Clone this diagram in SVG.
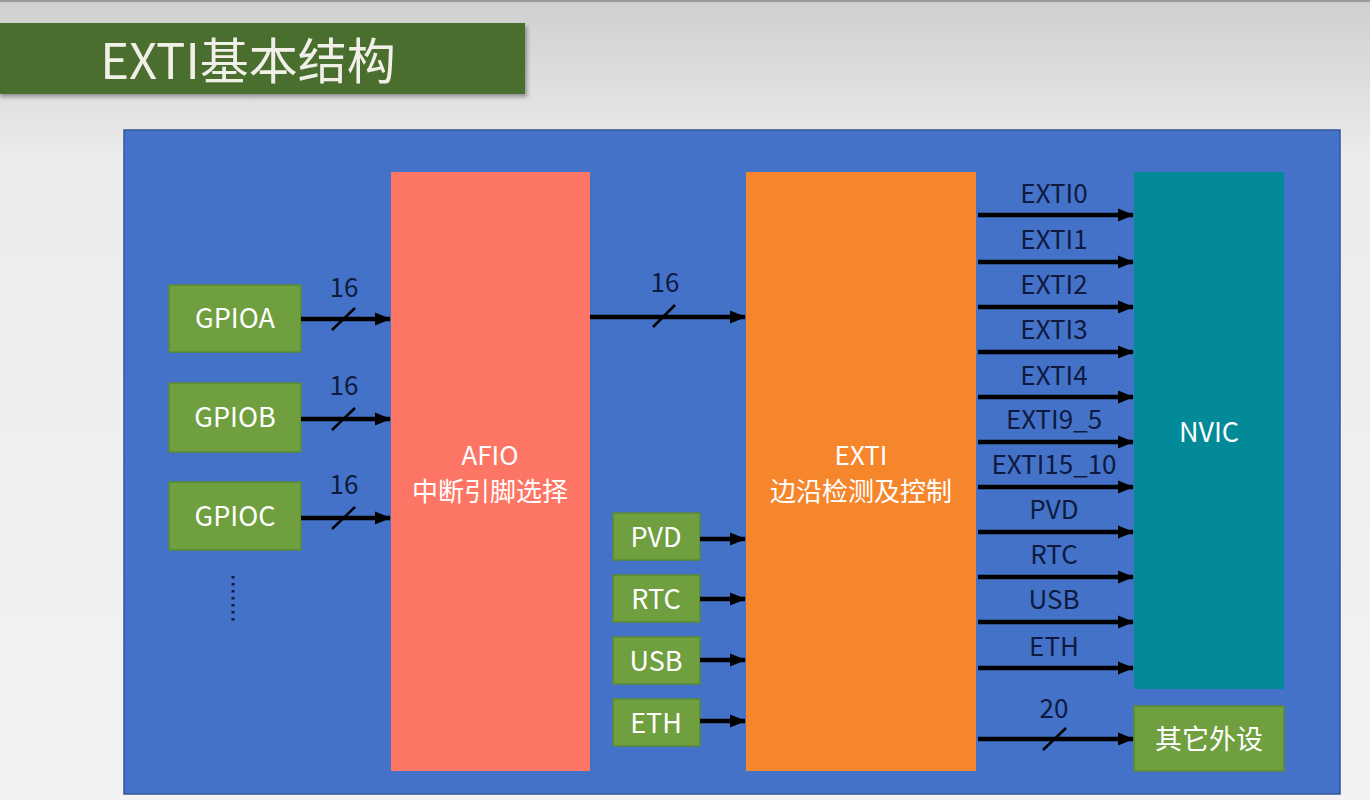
<svg xmlns="http://www.w3.org/2000/svg" width="1370" height="800" viewBox="0 0 1370 800">
<defs>
<linearGradient id="bg" x1="0" y1="0" x2="0" y2="1">
<stop offset="0" stop-color="#cfcfcf"/>
<stop offset="0.2" stop-color="#ececec"/>
<stop offset="1" stop-color="#f3f3f3"/>
</linearGradient>
<marker id="ah" markerWidth="16" markerHeight="16" viewBox="0 0 16 16" refX="15" refY="8" orient="auto" markerUnits="userSpaceOnUse">
<path d="M0,1.5 L16,8 L0,14.5 Z" fill="#000"/>
</marker>
<filter id="sh" x="-5%" y="-20%" width="110%" height="150%">
<feDropShadow dx="2" dy="3" stdDeviation="2" flood-color="#000" flood-opacity="0.35"/>
</filter>
</defs>
<style>
.wt{font-family:"Noto Sans CJK SC","Noto Sans",sans-serif;fill:#fff;font-size:27px;text-anchor:middle}
.bt{font-size:26px}
.lb{font-family:"Noto Sans CJK SC","Noto Sans",sans-serif;fill:#0e1a3e;font-size:26px;text-anchor:middle}
.gr{fill:#6f9f3f;stroke:#5a8a35;stroke-width:1.5}
.ar{stroke:#000;stroke-width:4.5;fill:none;marker-end:url(#ah)}
.sl{stroke:#000;stroke-width:2.5}
</style>
<rect x="0" y="0" width="1370" height="800" fill="url(#bg)"/>
<rect x="0" y="0" width="1370" height="2" fill="#9a9a9a"/>
<g id="title">
<rect x="-2" y="23" width="527" height="71" fill="#4a6e2e" filter="url(#sh)"/>
<text x="248" y="79" font-family="Noto Sans CJK SC, Noto Sans, sans-serif" font-size="49" fill="#f0f0e8" text-anchor="middle">EXTI基本结构</text>
</g>
<g id="panel">
<rect x="124" y="130" width="1216" height="664" fill="#4472c8" stroke="#34559a" stroke-width="1.5"/>
</g>
<g id="gpioa"><rect class="gr" x="169" y="285" width="132" height="67"/><text class="wt" x="235" y="328">GPIOA</text></g>
<g id="gpiob"><rect class="gr" x="169" y="383" width="132" height="69"/><text class="wt" x="235" y="427">GPIOB</text></g>
<g id="gpioc"><rect class="gr" x="169" y="482" width="132" height="68"/><text class="wt" x="235" y="526">GPIOC</text></g>
<g id="dots"><line x1="233" y1="576" x2="233" y2="624" stroke="#0e1a3e" stroke-width="3" stroke-dasharray="2.5,4.5"/></g>
<g id="afio"><rect x="391" y="172" width="199" height="599" fill="#fd7665"/><text class="wt bt" x="490" y="465">AFIO</text><text class="wt bt" x="490" y="501">中断引脚选择</text></g>
<g id="exti"><rect x="746" y="172" width="230" height="599" fill="#f5862c"/><text class="wt bt" x="861" y="465">EXTI</text><text class="wt bt" x="861" y="501">边沿检测及控制</text></g>
<g id="nvic"><rect x="1134" y="172" width="150" height="517" fill="#038a98"/><text class="wt" x="1209" y="442">NVIC</text></g>
<g id="other"><rect class="gr" x="1134" y="706" width="150" height="65"/><text class="wt" x="1209" y="749">其它外设</text></g>
<g id="pvd"><rect class="gr" x="613" y="513" width="87" height="47"/><text class="wt" x="656" y="547">PVD</text></g>
<g id="rtc"><rect class="gr" x="613" y="575" width="87" height="47"/><text class="wt" x="656" y="609">RTC</text></g>
<g id="usb"><rect class="gr" x="613" y="637" width="87" height="47"/><text class="wt" x="656" y="671">USB</text></g>
<g id="eth"><rect class="gr" x="613" y="699" width="87" height="47"/><text class="wt" x="656" y="733">ETH</text></g>
<g id="connectors">
<line class="ar" x1="301" y1="319" x2="390" y2="319"/><line class="sl" x1="332" y1="330" x2="355" y2="308"/><text class="lb" x="344" y="297">16</text>
<line class="ar" x1="301" y1="419" x2="390" y2="419"/><line class="sl" x1="332" y1="430" x2="355" y2="408"/><text class="lb" x="344" y="395">16</text>
<line class="ar" x1="301" y1="518" x2="390" y2="518"/><line class="sl" x1="332" y1="529" x2="355" y2="507"/><text class="lb" x="344" y="494">16</text>
<line class="ar" x1="590" y1="317" x2="745" y2="317"/><line class="sl" x1="653" y1="327" x2="675" y2="305"/><text class="lb" x="665" y="292">16</text>
<line class="ar" x1="700" y1="539" x2="745" y2="539"/>
<line class="ar" x1="700" y1="599" x2="745" y2="599"/>
<line class="ar" x1="700" y1="660" x2="745" y2="660"/>
<line class="ar" x1="700" y1="721" x2="745" y2="721"/>
<line class="ar" x1="978" y1="215" x2="1133" y2="215"/><text class="lb" x="1054" y="203">EXTI0</text>
<line class="ar" x1="978" y1="262" x2="1133" y2="262"/><text class="lb" x="1054" y="249">EXTI1</text>
<line class="ar" x1="978" y1="307" x2="1133" y2="307"/><text class="lb" x="1054" y="294">EXTI2</text>
<line class="ar" x1="978" y1="352" x2="1133" y2="352"/><text class="lb" x="1054" y="339">EXTI3</text>
<line class="ar" x1="978" y1="397" x2="1133" y2="397"/><text class="lb" x="1054" y="385">EXTI4</text>
<line class="ar" x1="978" y1="442" x2="1133" y2="442"/><text class="lb" x="1054" y="429">EXTI9_5</text>
<line class="ar" x1="978" y1="487" x2="1133" y2="487"/><text class="lb" x="1054" y="474">EXTI15_10</text>
<line class="ar" x1="978" y1="532" x2="1133" y2="532"/><text class="lb" x="1054" y="519">PVD</text>
<line class="ar" x1="978" y1="577" x2="1133" y2="577"/><text class="lb" x="1054" y="564">RTC</text>
<line class="ar" x1="978" y1="622" x2="1133" y2="622"/><text class="lb" x="1054" y="609">USB</text>
<line class="ar" x1="978" y1="668" x2="1133" y2="668"/><text class="lb" x="1054" y="656">ETH</text>
<line class="ar" x1="978" y1="739" x2="1133" y2="739"/><line class="sl" x1="1043" y1="750" x2="1066" y2="728"/><text class="lb" x="1054" y="718">20</text>
</g>
</svg>
